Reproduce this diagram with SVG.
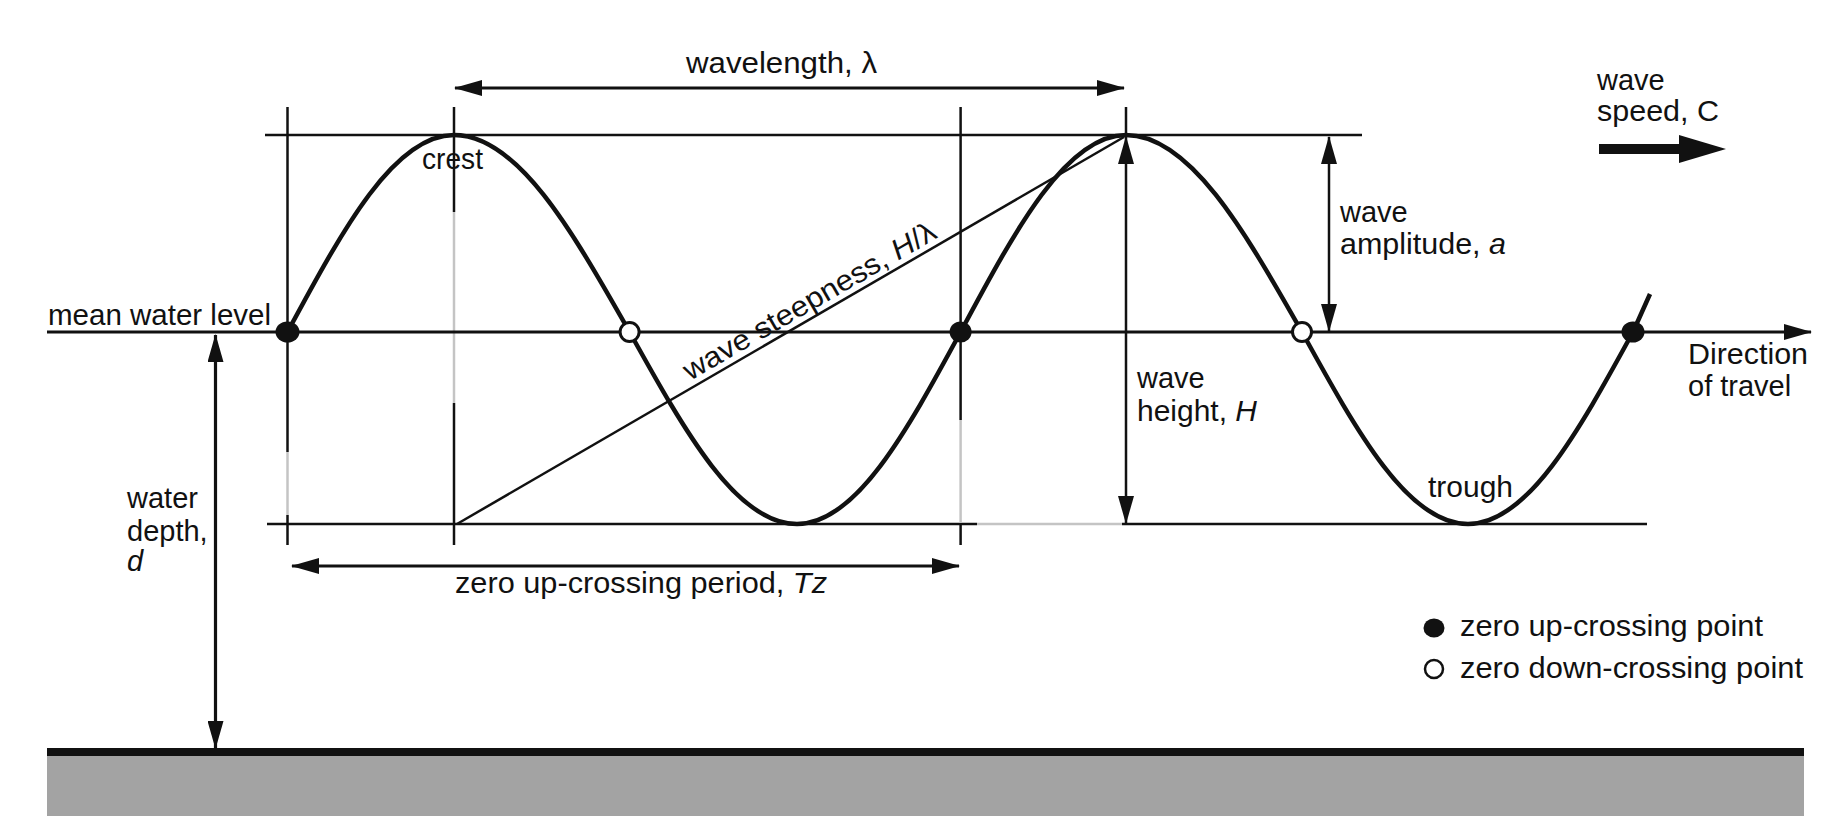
<svg xmlns="http://www.w3.org/2000/svg" width="1837" height="816" viewBox="0 0 1837 816">
<style>
text{font-family:"Liberation Sans",Arial,sans-serif;font-size:29px;fill:#111}
.it{font-style:italic}
.thin{stroke:#111;stroke-width:2.5;fill:none}
.med{stroke:#111;stroke-width:3.2;fill:none}
.gray{stroke:#c4c4c4;stroke-width:2.5;fill:none}
.arr{marker-start:url(#ah);marker-end:url(#ah)}
</style>
<defs>
<marker id="ah" viewBox="0 0 28 16" refX="27" refY="8" markerWidth="28" markerHeight="16" markerUnits="userSpaceOnUse" orient="auto-start-reverse">
<path d="M0,0 L28,8 L0,16 z" fill="#111"/>
</marker>
<marker id="ahs" viewBox="0 0 28 16" refX="27" refY="8" markerWidth="28" markerHeight="16" markerUnits="userSpaceOnUse" orient="auto">
<path d="M0,0 L28,8 L0,16 z" fill="#111"/>
</marker>
</defs>
<rect width="1837" height="816" fill="#fff"/>

<g id="seabed">
<rect x="47" y="755" width="1757" height="61" fill="#a3a3a3"/>
<line x1="47" y1="752" x2="1804" y2="752" stroke="#111" stroke-width="8"/>
</g>

<g id="reference-lines">
<line class="thin" x1="265" y1="135" x2="1362" y2="135"/>
<line class="thin" x1="267" y1="524" x2="977" y2="524"/>
<line class="gray" x1="977" y1="524" x2="1122" y2="524"/>
<line class="thin" x1="1122" y1="524" x2="1647" y2="524"/>
<line class="thin" x1="287.5" y1="107" x2="287.5" y2="452"/>
<line class="gray" x1="287.5" y1="452" x2="287.5" y2="515"/>
<line class="thin" x1="287.5" y1="515" x2="287.5" y2="545"/>
<line class="thin" x1="454" y1="107" x2="454" y2="212"/>
<line class="gray" x1="454" y1="212" x2="454" y2="403"/>
<line class="thin" x1="454" y1="403" x2="454" y2="545"/>
<line class="thin" x1="960.6" y1="107" x2="960.6" y2="420"/>
<line class="gray" x1="960.6" y1="420" x2="960.6" y2="523"/>
<line class="thin" x1="960.6" y1="523" x2="960.6" y2="545"/>
<line class="thin" x1="1126" y1="107" x2="1126" y2="136"/>
</g>

<g id="connectors">
<line id="mean-water-line" class="med" x1="47" y1="332" x2="1811" y2="332" marker-end="url(#ahs)"/>
<line id="wavelength-arrow" class="med arr" x1="455" y1="88" x2="1124" y2="88"/>
<line id="period-arrow" class="med arr" x1="292" y1="566" x2="959" y2="566"/>
<line id="depth-arrow" class="med arr" x1="215.5" y1="335" x2="215.5" y2="748"/>
<line id="height-arrow" class="thin arr" x1="1126" y1="137" x2="1126" y2="523"/>
<line id="amplitude-arrow" class="thin arr" x1="1329" y1="137" x2="1329" y2="331"/>
<line id="steepness-line" class="thin" x1="457" y1="524" x2="1124" y2="137"/>
</g>

<g id="wave">
<path d="M287.5,332 C343.2,228.6 394.1,135 454,135 C517.2,135 570.9,228.6 629.6,332 C685.6,432.8 736.7,524 797,524 C855.9,524 905.9,432.8 960.6,332 C1015.9,228.6 1066.5,135 1126,135 C1189.4,135 1243.2,228.6 1302,332 C1357.5,432.8 1408.2,524 1468,524 C1527.4,524 1577.8,432.8 1633,332 L1650,294" stroke="#111" stroke-width="4.5" fill="none"/>
</g>

<g id="crossing-points">
<ellipse cx="287.5" cy="332" rx="12" ry="10.5" fill="#111"/>
<ellipse cx="960.6" cy="332" rx="11" ry="10.5" fill="#111"/>
<ellipse cx="1633" cy="332" rx="11.5" ry="10.5" fill="#111"/>
<circle cx="629.6" cy="332" r="9.5" fill="#fff" stroke="#111" stroke-width="3"/>
<circle cx="1302" cy="332" r="9.5" fill="#fff" stroke="#111" stroke-width="3"/>
</g>

<g id="wave-speed">
<rect x="1599" y="144" width="82" height="10" fill="#111"/>
<path d="M1679,135 L1726,149 L1679,163 z" fill="#111"/>
<text x="1597" y="90">wave</text>
<text x="1597" y="121" textLength="122" lengthAdjust="spacingAndGlyphs">speed, C</text>
</g>

<g id="label-mean-water-level"><text x="48" y="325" textLength="223" lengthAdjust="spacingAndGlyphs">mean water level</text></g>
<g id="label-crest"><text x="422" y="169" textLength="61" lengthAdjust="spacingAndGlyphs">crest</text></g>
<g id="label-wavelength"><text x="686" y="73" textLength="191" lengthAdjust="spacingAndGlyphs">wavelength, λ</text></g>
<g id="label-steepness"><text transform="translate(690,381) rotate(-30.05)" textLength="287" lengthAdjust="spacingAndGlyphs">wave steepness, <tspan class="it">H</tspan>/λ</text></g>
<g id="label-amplitude">
<text x="1340" y="222">wave</text>
<text x="1340" y="254" textLength="166" lengthAdjust="spacingAndGlyphs">amplitude, <tspan class="it">a</tspan></text>
</g>
<g id="label-direction">
<text x="1688" y="364" textLength="120" lengthAdjust="spacingAndGlyphs">Direction</text>
<text x="1688" y="396">of travel</text>
</g>
<g id="label-height">
<text x="1137" y="388">wave</text>
<text x="1137" y="421" textLength="120" lengthAdjust="spacingAndGlyphs">height, <tspan class="it">H</tspan></text>
</g>
<g id="label-depth">
<text x="127" y="508">water</text>
<text x="127" y="541">depth,</text>
<text x="127" y="571" class="it">d</text>
</g>
<g id="label-period"><text x="455" y="593" textLength="372" lengthAdjust="spacingAndGlyphs">zero up-crossing period, <tspan class="it">Tz</tspan></text></g>
<g id="label-trough"><text x="1428" y="497" textLength="85" lengthAdjust="spacingAndGlyphs">trough</text></g>

<g id="legend">
<ellipse cx="1434" cy="628" rx="10.5" ry="9.5" fill="#111"/>
<text x="1460" y="636" textLength="303" lengthAdjust="spacingAndGlyphs">zero up-crossing point</text>
<ellipse cx="1434" cy="669" rx="9" ry="9" fill="#fff" stroke="#111" stroke-width="2.5"/>
<text x="1460" y="678" textLength="343" lengthAdjust="spacingAndGlyphs">zero down-crossing point</text>
</g>
</svg>
